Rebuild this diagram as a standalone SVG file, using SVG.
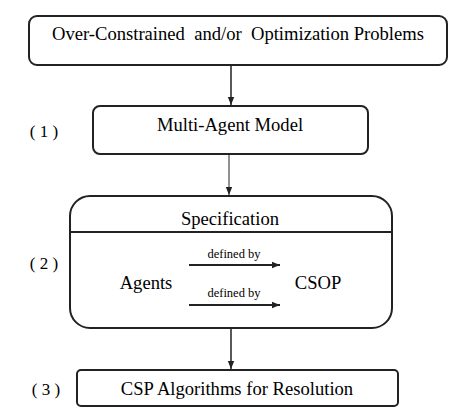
<svg xmlns="http://www.w3.org/2000/svg" width="474" height="413" viewBox="0 0 474 413">
<style>
text{font-family:"Liberation Serif","Times New Roman","DejaVu Serif",serif;fill:#000;text-anchor:middle}
.box{fill:#fff;stroke:#222;stroke-width:2}
.t{font-size:18.6px}
.l{font-size:17px}
.s{font-size:12.5px}
.c{stroke:#222;fill:none}
</style>
<defs>
<marker id="ah" viewBox="0 0 10 10" refX="10" refY="5" markerWidth="9" markerHeight="8" markerUnits="userSpaceOnUse" orient="auto"><path d="M0,1 L10,5 L0,9 z" fill="#222"/></marker>
</defs>
<rect width="474" height="413" fill="#fff"/>
<g id="n-problems"><rect class="box" x="29" y="16" width="418" height="49" rx="8"/><text class="t" x="238" y="40" xml:space="preserve">Over-Constrained  and/or  Optimization Problems</text></g>
<g id="n-model"><rect class="box" x="93" y="106" width="275" height="48" rx="7"/><text class="t" x="230" y="131">Multi-Agent Model</text></g>
<g id="n-spec"><rect class="box" x="70" y="196" width="322" height="132" rx="20"/><line x1="70" y1="232" x2="392" y2="232" stroke="#222" stroke-width="2"/><text class="t" x="230" y="225">Specification</text>
<text class="t" x="146" y="289">Agents</text><text class="t" x="318" y="289">CSOP</text></g>
<g id="n-csp"><rect class="box" x="77" y="370" width="321" height="36" rx="4"/><text class="t" x="237" y="395">CSP Algorithms for Resolution</text></g>
<g id="labels"><text class="l" x="44" y="137">( 1 )</text><text class="l" x="44" y="269">( 2 )</text><text class="l" x="46" y="395">( 3 )</text></g>
<g id="connectors">
<line class="c" stroke-width="1.5" x1="231" y1="65" x2="231" y2="105" marker-end="url(#ah)"/>
<line class="c" stroke-width="1" x1="229" y1="154" x2="229" y2="195" marker-end="url(#ah)"/>
<line class="c" stroke-width="1.5" x1="231" y1="328" x2="231" y2="369" marker-end="url(#ah)"/>
<line class="c" stroke-width="2" x1="189" y1="265" x2="280" y2="265" marker-end="url(#ah)"/>
<text class="s" x="234" y="258">defined by</text>
<line class="c" stroke-width="2" x1="189" y1="305" x2="280" y2="305" marker-end="url(#ah)"/>
<text class="s" x="234" y="297">defined by</text>
</g>
</svg>
